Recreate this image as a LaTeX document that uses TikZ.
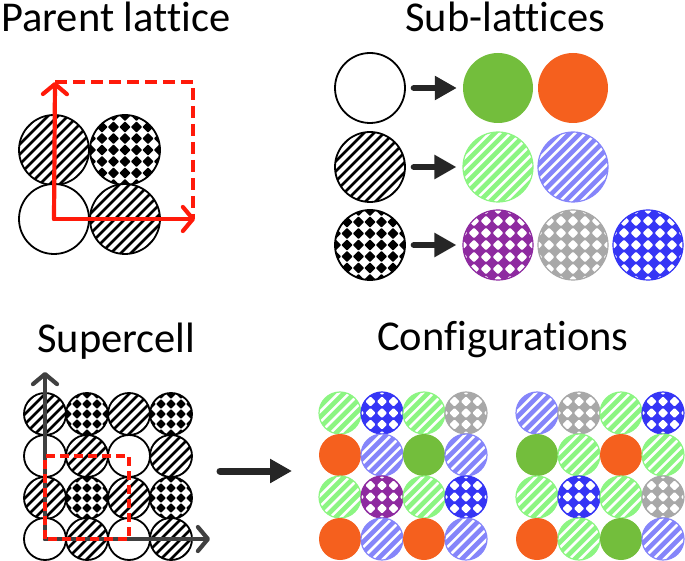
\documentclass[tikz,border=0pt]{standalone}
\usepackage{fontspec}
\setmainfont{Carlito}[Ligatures=NoCommon]
\usetikzlibrary{arrows.meta}
\definecolor{cgreen}{HTML}{73BE3C}
\definecolor{corange}{HTML}{F5601E}
\definecolor{clgreen}{HTML}{8CF582}
\definecolor{cperi}{HTML}{8585FA}
\definecolor{cpurple}{HTML}{8E2AA0}
\definecolor{cgray}{HTML}{A8A8A8}
\definecolor{cblue}{HTML}{3535F5}
\definecolor{cred}{HTML}{FF1A0A}
\definecolor{cdark}{HTML}{262626}
\definecolor{caxis}{HTML}{404040}
\newcommand{\hatchpp}[3]{\foreach \k in {-9,...,9}{\draw[#1,line width=#2,line cap=butt] ([xshift=\k*#3]path picture bounding box.center) ++(-60pt,-60pt) -- ++(120pt,120pt);}}
\newcommand{\checkpp}[3]{\foreach \i in {-4,...,4}{\foreach \j in {-4,...,4}{\fill[#1,rounded corners=0.8pt] ([shift={(\i*#2,\j*#2)}]path picture bounding box.center) +(-#3,0pt) -- +(0pt,#3) -- +(#3,0pt) -- +(0pt,-#3) -- cycle;}}}
\tikzset{
  big/.style={circle,inner sep=0pt,minimum size=70pt},
  small/.style={circle,inner sep=0pt,minimum size=42pt},
  sW/.style={draw=black,line width=1.8pt,fill=white},
  sH/.style={sW,path picture={\hatchpp{black}{2.5pt}{10pt}}},
  sC/.style={sW,path picture={\checkpp{black}{#1}{0.49*#1}}},
  sC/.default=11.5pt,
  sG/.style={fill=cgreen},
  sO/.style={fill=corange},
  chatch/.style={fill=#1,draw=#1,line width=1.2pt,path picture={\hatchpp{white}{2.6pt}{10.6pt}}},
  ccheck/.style 2 args={fill=#1,draw=#1,line width=1.2pt,path picture={\checkpp{white}{#2}{0.44*#2}}},
  sLG/.style={chatch=clgreen},
  sPB/.style={chatch=cperi},
  sPU/.style={ccheck={cpurple}{#1}}, sPU/.default=12pt,
  sGR/.style={ccheck={cgray}{#1}}, sGR/.default=12pt,
  sBL/.style={ccheck={cblue}{#1}}, sBL/.default=12pt,
  title/.style={inner sep=0pt,anchor=base west,font=\fontsize{42.5}{50}\selectfont},
  redaxis/.style={draw=cred,line width=4.2pt,line cap=round,line join=round,-{Straight Barb[length=10pt,width=24pt,line cap=round,line join=round]}},
  reddash/.style={draw=cred,line width=4pt,dash pattern=on 12pt off 6pt},
  grayaxis/.style={draw=caxis,line width=4.2pt,line cap=round,line join=round,-{Straight Barb[length=10pt,width=24pt,line cap=round,line join=round]}},
  reddashs/.style={draw=cred,line width=3.5pt,dash pattern=on 9pt off 5pt},
  blkarrow/.style={draw=cdark,line width=6.5pt,line cap=round,-{Triangle[length=22pt,width=23pt]}},
}
\begin{document}
\begin{tikzpicture}[x=1pt,y=-1pt]
\useasboundingbox (0,0) rectangle (685,561);
% titles
\node[title] (t1) at (1,32) {Parent lattice};
\node[title] (t2) at (405,32) {Sub-lattices};
\node[title] (t3) at (37,352) {Supercell};
\node[title] (t4) at (377,350) {Configurations};
% parent lattice
\node[big,sH] (p11) at (54,150) {};
\node[big,sC] (p12) at (125,150) {};
\node[big,sW] (p21) at (54,219) {};
\node[big,sH] (p22) at (125,219) {};
\coordinate (pY) at (55,82);
\coordinate (pX) at (195,219);
\coordinate (pC) at (193,82);
\coordinate (pD) at (193,219);
\draw[reddash] (pY) -- (pC) -- (pD);
\draw[redaxis] (p21.center) -- (pY);
\draw[redaxis] (p21.center) -- (pX);
% sub-lattices
\node[big,sW] (s1) at (370,88) {};
\node[big,sG] (r11) at (498,88) {};
\node[big,sO] (r12) at (573,88) {};
\node[big,sH] (s2) at (370,167) {};
\node[big,sLG] (r21) at (498,167) {};
\node[big,sPB] (r22) at (573,167) {};
\node[big,sC] (s3) at (370,245) {};
\node[big,sPU] (r31) at (498,245) {};
\node[big,sGR] (r32) at (573,245) {};
\node[big,sBL] (r33) at (648,245) {};
\draw[blkarrow] ([xshift=8pt]s1.east) -- ([xshift=-6pt]r11.west);
\draw[blkarrow] ([xshift=8pt]s2.east) -- ([xshift=-6pt]r21.west);
\draw[blkarrow] ([xshift=8pt]s3.east) -- ([xshift=-6pt]r31.west);
% supercell
\node[small,sH] (c11) at (45,414) {};
\node[small,sC=10pt] (c12) at (87,414) {};
\node[small,sH] (c13) at (129,414) {};
\node[small,sC=10pt] (c14) at (171,414) {};
\node[small,sW] (c21) at (45,456) {};
\node[small,sH] (c22) at (87,456) {};
\node[small,sW] (c23) at (129,456) {};
\node[small,sH] (c24) at (171,456) {};
\node[small,sH] (c31) at (45,498) {};
\node[small,sC=10pt] (c32) at (87,498) {};
\node[small,sH] (c33) at (129,498) {};
\node[small,sC=10pt] (c34) at (171,498) {};
\node[small,sW] (c41) at (45,539) {};
\node[small,sH] (c42) at (87,539) {};
\node[small,sW] (c43) at (129,539) {};
\node[small,sH] (c44) at (171,539) {};
\coordinate (cY) at (45,372);
\coordinate (cX) at (210,539);
\draw[grayaxis] (c41.center) -- (cY);
\draw[grayaxis] (c41.center) -- (cX);
\draw[reddashs] (c41.center) rectangle (c23.center);
% main arrow
\coordinate (mA) at (220,471);
\coordinate (mB) at (292,471);
\draw[blkarrow,line width=7pt] (mA) -- (mB);
% configuration 1
\node[small,sLG] (a11) at (340,413) {};
\node[small,sBL=11.5pt] (a12) at (382,413) {};
\node[small,sLG] (a13) at (424,413) {};
\node[small,sGR=11.5pt] (a14) at (466,413) {};
\node[small,sO] (a21) at (340,455) {};
\node[small,sPB] (a22) at (382,455) {};
\node[small,sG] (a23) at (424,455) {};
\node[small,sPB] (a24) at (466,455) {};
\node[small,sLG] (a31) at (340,497) {};
\node[small,sPU=11.5pt] (a32) at (382,497) {};
\node[small,sLG] (a33) at (424,497) {};
\node[small,sBL=11.5pt] (a34) at (466,497) {};
\node[small,sO] (a41) at (340,539) {};
\node[small,sPB] (a42) at (382,539) {};
\node[small,sO] (a43) at (424,539) {};
\node[small,sPB] (a44) at (466,539) {};
% configuration 2
\node[small,sPB] (b11) at (537,413) {};
\node[small,sGR=11.5pt] (b12) at (579,413) {};
\node[small,sLG] (b13) at (621,413) {};
\node[small,sBL=11.5pt] (b14) at (663,413) {};
\node[small,sG] (b21) at (537,455) {};
\node[small,sLG] (b22) at (579,455) {};
\node[small,sO] (b23) at (621,455) {};
\node[small,sLG] (b24) at (663,455) {};
\node[small,sLG] (b31) at (537,497) {};
\node[small,sBL=11.5pt] (b32) at (579,497) {};
\node[small,sLG] (b33) at (621,497) {};
\node[small,sGR=11.5pt] (b34) at (663,497) {};
\node[small,sO] (b41) at (537,539) {};
\node[small,sLG] (b42) at (579,539) {};
\node[small,sG] (b43) at (621,539) {};
\node[small,sPB] (b44) at (663,539) {};
\end{tikzpicture}
\end{document}
